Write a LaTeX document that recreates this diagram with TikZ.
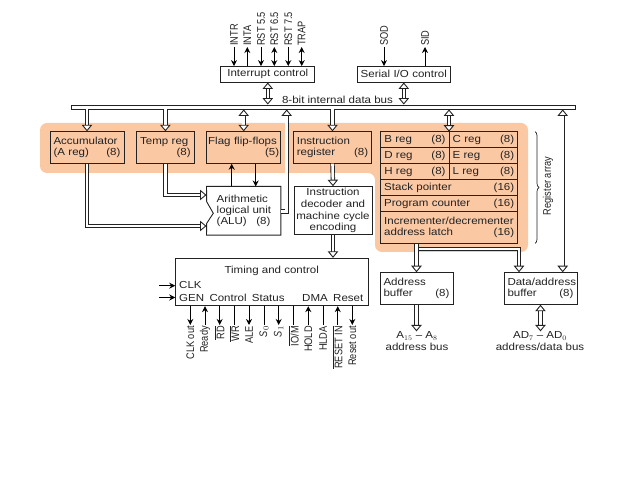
\documentclass[tikz,border=0pt]{standalone}
\usepackage{fontspec}
\setmainfont[FakeStretch=1.13]{Liberation Sans}
\newfontfamily\pinfont[FakeStretch=0.84]{Liberation Sans}
\usetikzlibrary{arrows.meta,decorations.pathreplacing}
\definecolor{regorange}{HTML}{FBC8A4}
\definecolor{inkgray}{HTML}{222222}

\tikzset{
    blk/.style={draw=inkgray, line width=0.9pt, inner xsep=3.5pt, inner ysep=0pt, text=inkgray, font=\fontsize{10.2}{11}\selectfont, align=left},
    txt/.style={inner sep=0pt, text=inkgray, font=\fontsize{10.2}{11}\selectfont},
    pinlab/.style={rotate=90, inner sep=1pt, text=inkgray, font=\pinfont\fontsize{11}{11}\selectfont},
    pin/.style={draw=black, line width=1pt},
    pinout/.style={pin, -{Stealth[length=6pt,width=6pt]}},
    pinin/.style={pin, {Stealth[length=6pt,width=6pt]}-},
    pinboth/.style={pin, {Stealth[length=6pt,width=6pt]}-{Stealth[length=6pt,width=6pt]}},
    wtip/.tip={Triangle[open, length=6.5pt, width=10.5pt, line width=0.9pt, fill=white]},
    path8/.style={draw=inkgray, line width=0.9pt, double=white, double distance=2.6pt, -{wtip}},
    path8both/.style={path8, {wtip}-{wtip}},
}

\begin{document}
\begin{tikzpicture}[x=1pt,y=-1pt]
    \useasboundingbox (0,0) rectangle (638,478);

    % Orange band
    \fill[regorange, rounded corners=7pt] (40,123) -- (528,123) -- (528,252) -- (375,252) -- (375,173) -- (40,173) -- cycle;

    % Internal bus
    \node[draw=inkgray, line width=0.9pt, fill=white, minimum width=504, minimum height=4, inner sep=0pt] (bus) at (323,107) {};
    \node[txt] (buslab) at (337.5,99.5) {8-bit internal data bus};

    % Top blocks
    \node[blk, text width=87pt, minimum height=15.5, align=center] (intr) at (267.8,74.3) {Interrupt control};
    \node[blk, text width=86.5pt, minimum height=15.5, align=center] (sio) at (403.8,74.3) {Serial I/O control};

    % Registers on the band
    \node[blk, text width=67pt, minimum height=31.5] (acc) at (87,147.5) {Accumulator\\(A reg)\hfill(8)};
    \node[blk, text width=50.5pt, minimum height=31.5] (temp) at (165.4,147.5) {Temp reg\\\hfill(8)};
    \node[blk, text width=71pt, inner xsep=1.5pt, minimum height=31.5] (flag) at (243.7,147.5) {Flag flip-flops\\\hfill(5)\hspace{1.5pt}};
    \node[blk, text width=71.4pt, minimum height=31.5] (ireg) at (332.5,147.5) {Instruction\\register\hfill(8)};

    % Register array
    \node[blk, text width=61.3pt, minimum height=16] (breg) at (414.9,139.7) {B reg\hfill(8)};
    \node[blk, text width=61.7pt, minimum height=16] (creg) at (483.4,139.7) {C reg\hfill(8)};
    \node[blk, text width=61.3pt, minimum height=16] (dreg) at (414.9,155.7) {D reg\hfill(8)};
    \node[blk, text width=61.7pt, minimum height=16] (ereg) at (483.4,155.7) {E reg\hfill(8)};
    \node[blk, text width=61.3pt, minimum height=16] (hreg) at (414.9,171.5) {H reg\hfill(8)};
    \node[blk, text width=61.7pt, minimum height=16] (lreg) at (483.4,171.5) {L reg\hfill(8)};
    \node[blk, text width=130pt, minimum height=16.4] (sp) at (449.2,187.5) {Stack pointer\hfill(16)};
    \node[blk, text width=130pt, minimum height=16] (pc) at (449.2,203.7) {Program counter\hfill(16)};
    \node[blk, text width=130pt, minimum height=31.6] (latch) at (449.2,227.5) {Incrementer/decrementer\\address latch\hfill(16)};

    % Brace
    \draw[decorate, decoration={brace, amplitude=4pt}, line width=0.7pt, draw=inkgray] (535,131.7) -- (535,243.3);
    \node[pinlab] (arraylab) at (548,186) {Register array};

    % ALU and decoder
    \node[txt, minimum width=74, minimum height=48.3] (alu) at (243.7,210.8) {};
    \draw[line width=0.9pt, draw=inkgray] (alu.north west) -- (alu.north east) -- (alu.south east) -- (alu.south west) -- (206.7,223.3) -- (213.3,213.3) -- (206.7,201.7) -- cycle;
    \node[txt, align=left, anchor=north west] (alutxt) at (216.5,194.5) {Arithmetic\\logical unit\\(ALU)\hspace{9.5pt}(8)};
    \node[blk, text width=76pt, inner xsep=1pt, minimum height=48.3, align=center, font=\fontsize{10.2}{11.7}\selectfont] (dec) at (333,210.8) {Instruction\\decoder and\\machine cycle\\encoding};

    % Timing and control
    \node[draw=inkgray, line width=0.9pt, minimum width=192.6, minimum height=47.4, inner sep=0pt] (timing) at (272,282) {};
    \node[txt] (timlab) at (271.7,270.7) {Timing and control};
    \node[txt, anchor=base west] (clk) at (179,288.5) {CLK};
    \node[txt, anchor=base west] (gen) at (179,301.5) {GEN};
    \node[txt, anchor=base west] (ctl) at (209.3,301.5) {Control};
    \node[txt, anchor=base west] (sta) at (251.7,301.5) {Status};
    \node[txt, anchor=base west] (dma) at (302,301.5) {DMA};
    \node[txt, anchor=base west] (rst) at (333,301.5) {Reset};
    \coordinate (clkin) at (159,285.7);
    \coordinate (genin) at (159,297.5);
    \draw[pinout] (clkin) -- (clkin -| timing.west);
    \draw[pinout] (genin) -- (genin -| timing.west);

    % Buffers
    \node[blk, text width=66pt, minimum height=31.6] (abuf) at (416.5,288.5) {Address\\buffer\hfill(8)};
    \node[blk, text width=66pt, minimum height=31.6] (dbuf) at (540.5,288.5) {Data/address\\buffer\hfill(8)};
    \node[txt, align=center, font=\fontsize{10.2}{11.7}\selectfont] (abus) at (417,341) {A$_{15}$ -- A$_8$\\address bus};
    \node[txt, align=center, font=\fontsize{10.2}{11.7}\selectfont] (dbus) at (540,341) {AD$_7$ -- AD$_0$\\address/data bus};

    % Pins on top
    \foreach \n/\x/\name/\tip in {a/234/INTR/pinout, b/247.3/INTA/pinin, c/261/RST 5.5/pinout, d/274.3/RST 6.5/pinboth, e/288.3/RST 7.5/pinout, f/301.7/TRAP/pinboth} {
        \node[pinlab, anchor=west] (p\n) at (\x,47) {\name};
        \draw[\tip] (p\n.west) -- (p\n.west |- intr.north);
    }
    \node[pinlab, anchor=west] (sod) at (384,47) {SOD};
    \node[pinlab, anchor=west] (sid) at (425,47) {SID};
    \draw[pinout] (sod.west) -- (sod.west |- sio.north);
    \draw[pinin] (sid.west) -- (sid.west |- sio.north);

    % Pins below timing
    \foreach \n/\x/\name/\tip in {a/190.3/CLK out/pinin, b/205/Ready/pinout, c/219.7/$\overline{\mbox{RD}}$/pinin, d/234.3/$\overline{\mbox{WR}}$/pin, e/249/ALE/pinin, f/264/\textit{S}$_0$/pin, g/278.7/\textit{S}$_1$/pinin, h/293.7/$\overline{\mbox{IO/M}}$/pin, i/308.3/HOLD/pinout, j/323/HLDA/pin, k/337.7/$\overline{\mbox{RESET IN}}$/pinout, l/352.3/Reset out/pinin} {
        \node[pinlab, anchor=east] (q\n) at (\x,325) {\name};
        \draw[\tip] (q\n.east) -- (q\n.east |- timing.south);
    }

    % Flag and ALU
    \coordinate (aluflag) at (231.7,175);
    \coordinate (flagalu) at (255.7,175);
    \draw[pinout] (aluflag |- alu.north) -- (aluflag |- flag.south);
    \draw[pinout] (flagalu |- flag.south) -- (flagalu |- alu.north);

    % Paths to the bus
    \coordinate (aluup) at (286.7,211.7);
    \coordinate (tempdn) at (165.4,195);
    \coordinate (accdn) at (87,226);
    \coordinate (regtap) at (449,131.7);
    \coordinate (dtap) at (562.7,200);
    \coordinate (brtap) at (519,249);

    \draw[path8both] (intr.south) -- (intr.south |- bus.north);
    \draw[path8both] (sio.south) -- (sio.south |- bus.north);
    \draw[path8] (acc.north |- bus.south) -- (acc.north);
    \draw[path8] (temp.north |- bus.south) -- (temp.north);
    \draw[path8both] (flag.north |- bus.south) -- (flag.north);
    \draw[path8] (ireg.north |- bus.south) -- (ireg.north);
    \draw[path8both] (regtap |- bus.south) -- (regtap);
    \draw[path8] (alu.east |- aluup) -- (aluup) -- (aluup |- bus.south);
    \draw[path8both] (dtap |- bus.south) -- (dtap |- dbuf.north);

    \draw[path8] (temp.south) -- (tempdn) -- (tempdn -| alu.west);
    \draw[path8] (acc.south) -- (accdn) -- (accdn -| alu.west);
    \draw[path8] (ireg.south) -- (dec.north);
    \draw[path8] (dec.south) -- (dec.south |- timing.north);

    \draw[path8] (abuf.north |- brtap) -- (brtap) -- (brtap |- dbuf.north);
    \draw[path8] (abuf.north |- latch.south) -- (abuf.north);
    \draw[path8] (abuf.south) -- (abus.north -| abuf.south);
    \draw[path8both] (dbuf.south) -- (dbus.north -| dbuf.south);
\end{tikzpicture}
\end{document}
